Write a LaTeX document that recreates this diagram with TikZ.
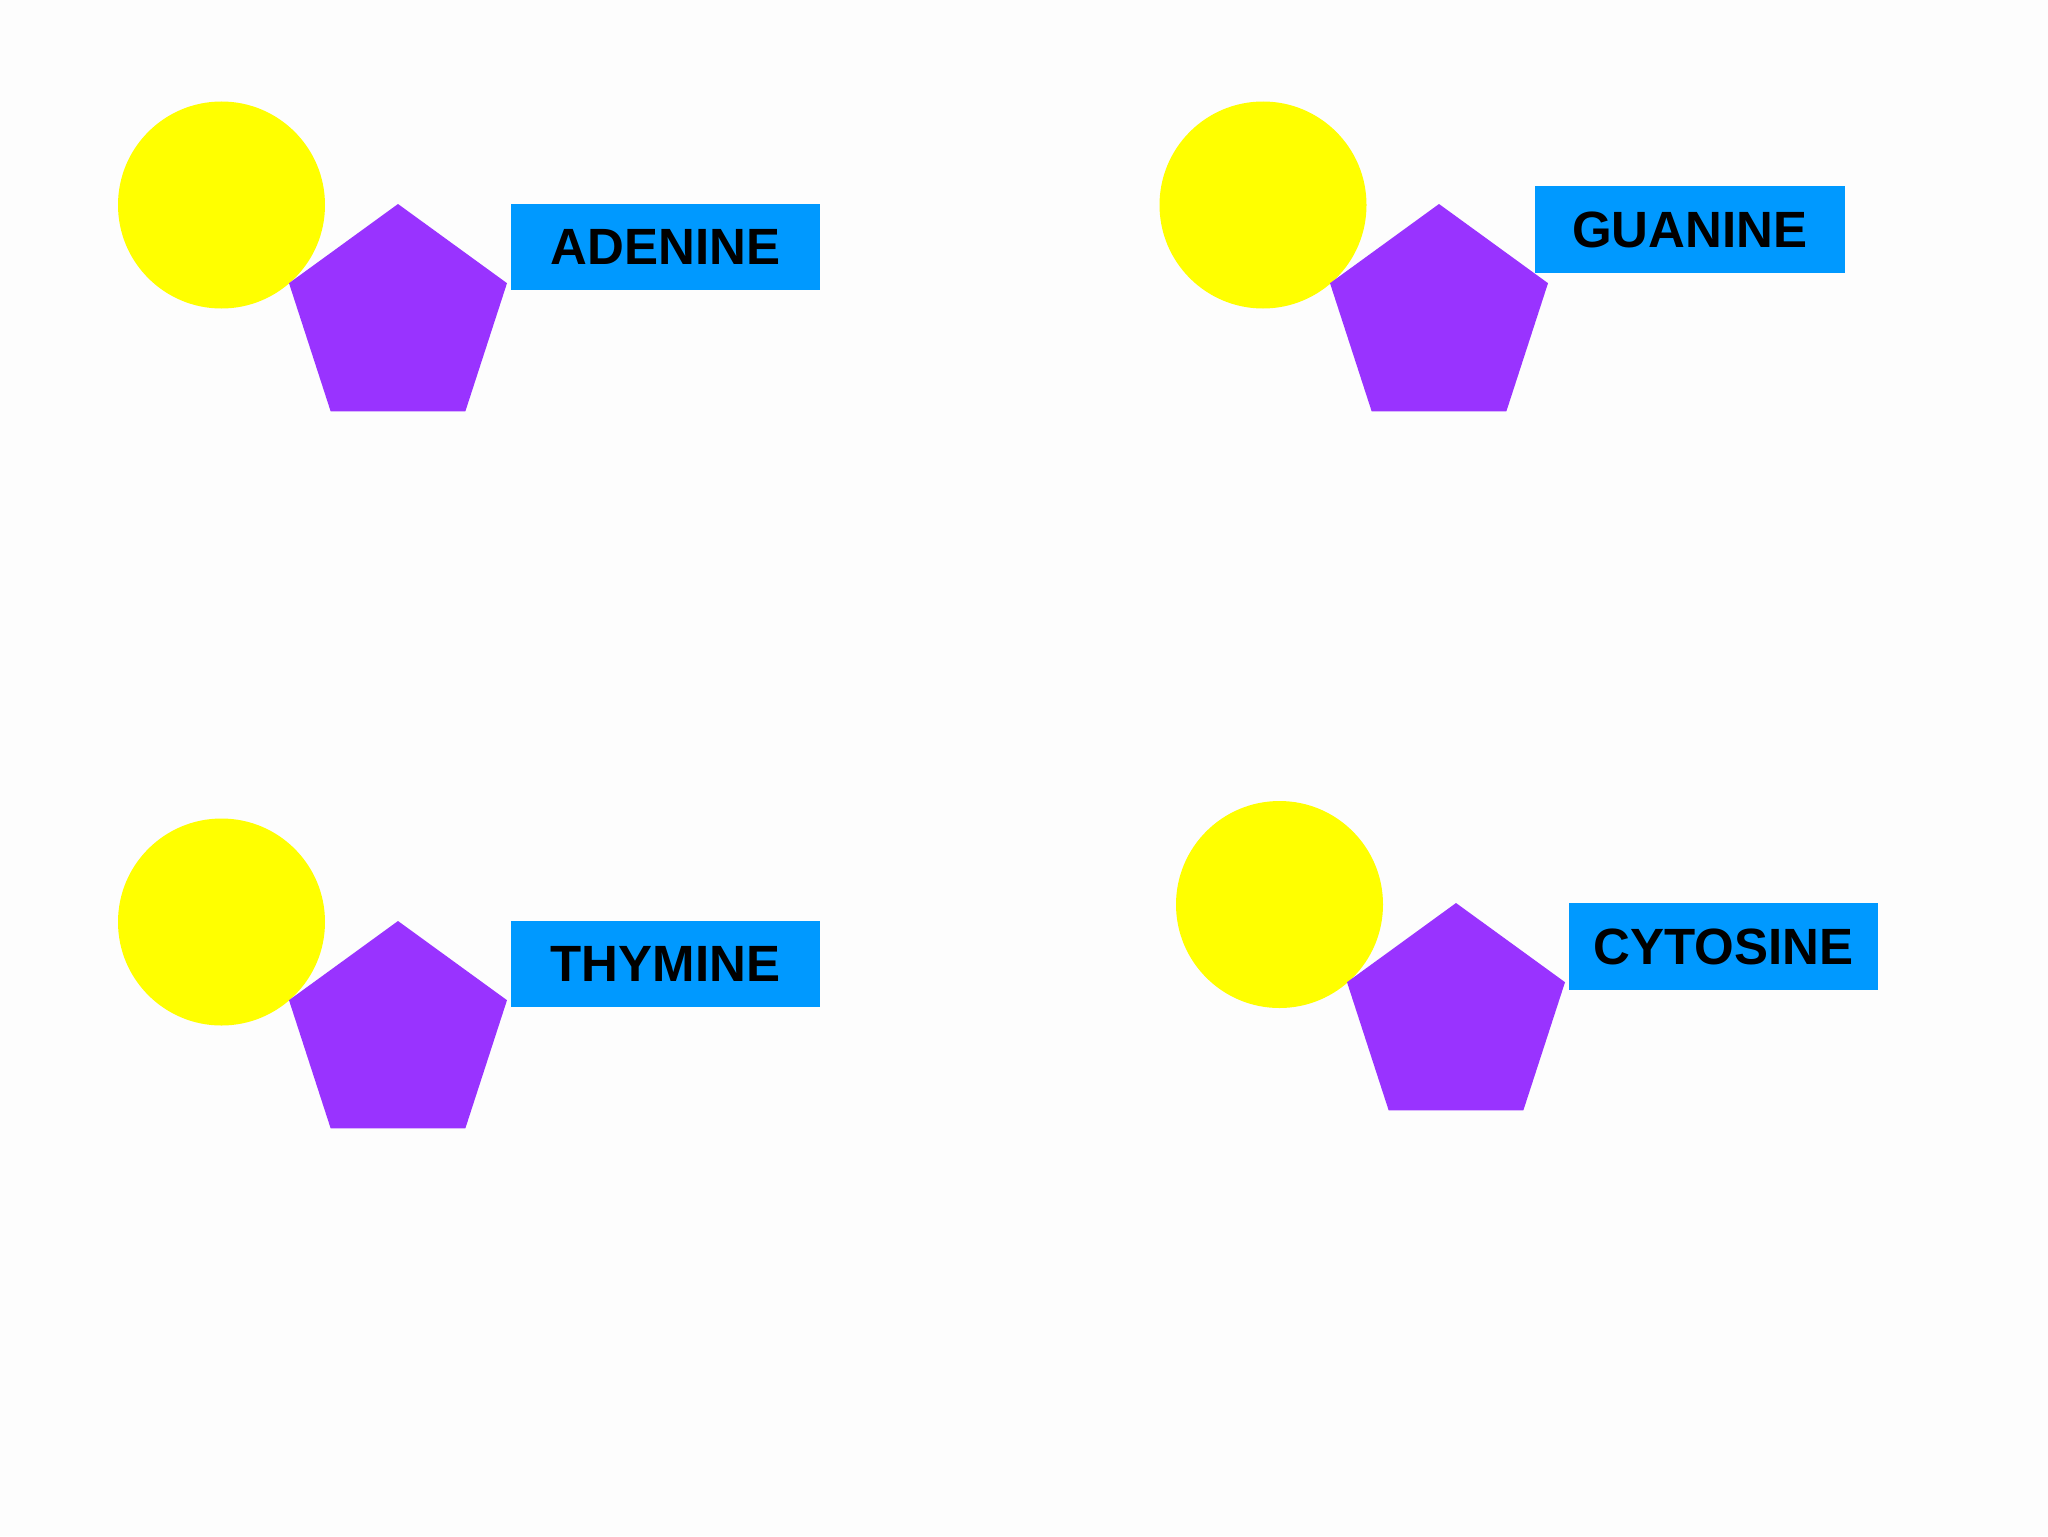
\documentclass[tikz,border=0pt]{standalone}
\usepackage{fontspec}
\setmainfont{Liberation Sans}
\usetikzlibrary{shapes.geometric}
\definecolor{bgcol}{RGB}{253,253,253}
\definecolor{sugar}{RGB}{255,255,0}
\definecolor{phos}{RGB}{153,51,255}
\definecolor{basecol}{RGB}{0,153,255}
\tikzset{
  ball/.style={circle, fill=sugar, inner sep=0pt, minimum size=103.5pt},
  penta/.style={regular polygon, regular polygon sides=5, fill=phos, inner sep=0pt, minimum size=114.6pt},
  label box/.style={rectangle, fill=basecol, inner sep=0pt, minimum width=154.8pt, minimum height=43.3pt,
    font=\fontsize{25.5}{30}\selectfont\bfseries, text=black}
}
\begin{document}
\begin{tikzpicture}[x=0.5pt,y=-0.5pt]
\fill[bgcol] (0,0) rectangle (2048,1536);
\useasboundingbox (0,0) rectangle (2048,1536);
% Adenine
\node[ball] (ca) at (221.5,205) {};
\node[penta] (pa) at (398,318.6) {};
\node[label box] (ba) at (665.5,247) {ADENINE};
% Guanine
\node[ball] (cg) at (1263,205) {};
\node[penta] (pg) at (1439,318.6) {};
\node[label box] (bg) at (1689.8,229.5) {GUANINE};
% Thymine
\node[ball] (ct) at (221.5,922) {};
\node[penta] (pt) at (398,1035.6) {};
\node[label box] (bt) at (665.5,964) {THYMINE};
% Cytosine
\node[ball] (cc) at (1279.5,904.5) {};
\node[penta] (pc) at (1456,1017.6) {};
\node[label box] (bc) at (1723.5,946.5) {CYTOSINE};
\end{tikzpicture}
\end{document}
